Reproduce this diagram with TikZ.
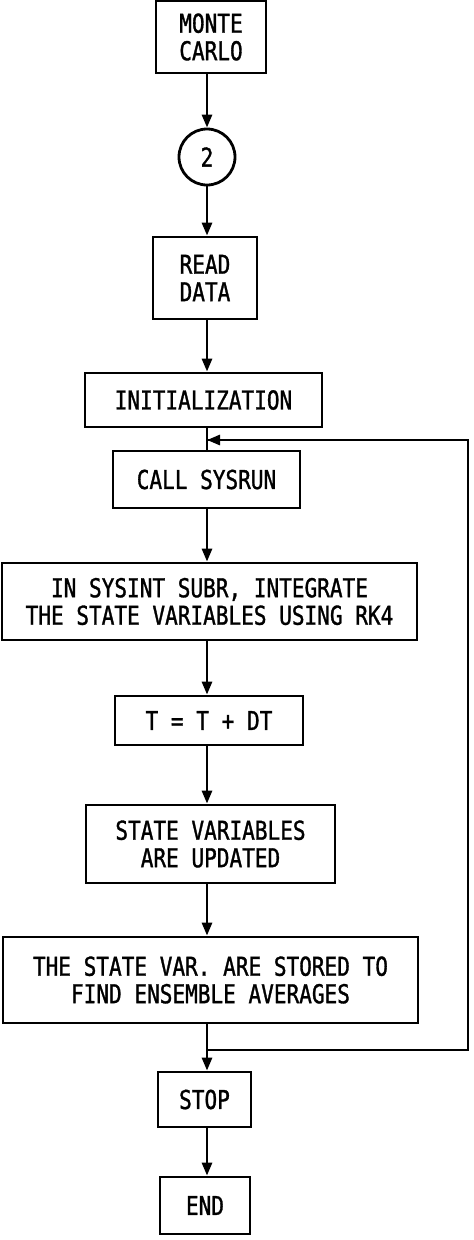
\documentclass[tikz,border=0pt]{standalone}
\usepackage{fontspec}
\newfontfamily\flowfont[FakeStretch=0.81,FakeBold=1.2]{DejaVu Sans Mono}
\usetikzlibrary{arrows.meta}
\begin{document}
\begin{tikzpicture}[x=1pt,y=-1pt,
  box/.style={draw, line width=2.8pt, inner sep=0pt, align=center,
    font=\flowfont\fontsize{26}{27.5}\selectfont},
  flow/.style={line width=2.8pt, -{Triangle[length=13pt,width=10pt]}},
  plain/.style={line width=2.8pt}]
\useasboundingbox (0,0) rectangle (474,1240);
\coordinate (spine) at (207,0);
\node[box, minimum width=110pt, minimum height=72pt] (mc) at (211,37) {MONTE\\CARLO};
\node[box, circle, minimum size=56pt] (c2) at (207,157) {2};
\node[box, minimum width=104pt, minimum height=82pt] (rd) at (205,278) {READ\\DATA};
\node[box, minimum width=237pt, minimum height=54pt] (init) at (203.5,400) {INITIALIZATION};
\node[box, minimum width=187pt, minimum height=57pt] (cs) at (206.5,479.5) {CALL SYSRUN};
\node[box, minimum width=415pt, minimum height=77pt] (sys) at (209.5,601.5) {IN SYSINT SUBR, INTEGRATE\\THE STATE VARIABLES USING RK4};
\node[box, minimum width=188pt, minimum height=49pt] (tt) at (209,720.5) {T = T + DT};
\node[box, minimum width=249pt, minimum height=78pt] (sv) at (210.5,844) {STATE VARIABLES\\ARE UPDATED};
\node[box, minimum width=415pt, minimum height=86pt] (ens) at (210.5,980) {THE STATE VAR. ARE STORED TO\\FIND ENSEMBLE AVERAGES};
\node[box, minimum width=93pt, minimum height=55pt] (stop) at (204.5,1099.5) {STOP};
\node[box, minimum width=90pt, minimum height=57pt] (end) at (205,1205.5) {END};
\coordinate (ja) at (207,440);
\coordinate (jb) at (207,1050);
\coordinate (lb) at (468,1050);
\coordinate (lt) at (468,440);
\draw[flow] (mc.south -| spine) -- (c2.north);
\draw[flow] (c2.south) -- (rd.north -| spine);
\draw[flow] (rd.south -| spine) -- (init.north -| spine);
\draw[plain] (init.south -| spine) -- (cs.north -| spine);
\draw[flow] (cs.south -| spine) -- (sys.north -| spine);
\draw[flow] (sys.south -| spine) -- (tt.north -| spine);
\draw[flow] (tt.south -| spine) -- (sv.north -| spine);
\draw[flow] (sv.south -| spine) -- (ens.north -| spine);
\draw[flow] (ens.south -| spine) -- (stop.north -| spine);
\draw[flow] (stop.south -| spine) -- (end.north -| spine);
\draw[plain, line join=miter] (jb) -- (lb) -- (lt) -- (ja);
\draw[flow] (lt) -- (ja);
\end{tikzpicture}
\end{document}
